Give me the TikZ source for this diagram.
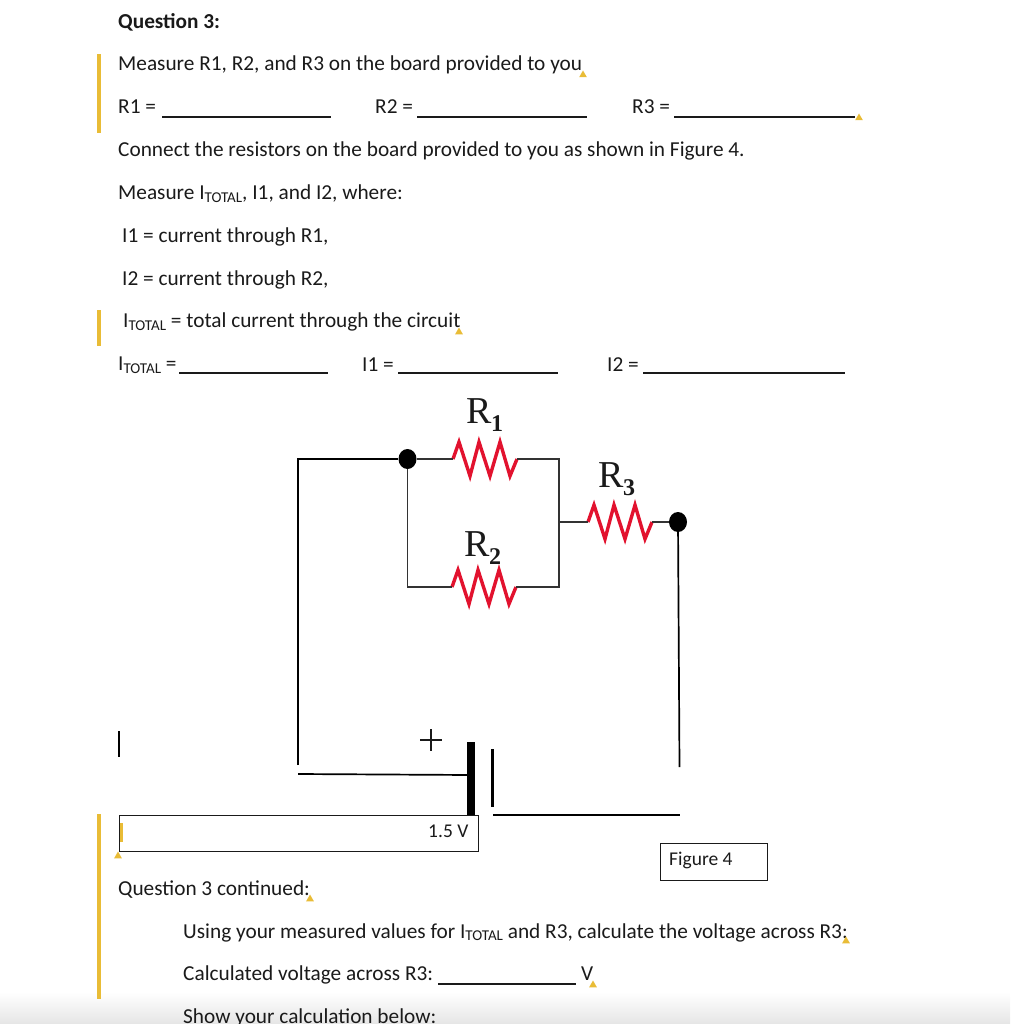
\documentclass[tikz,border=0pt]{standalone}
\usepackage{fontspec}
\setmainfont{Carlito}
\newfontfamily\symfont{Liberation Serif}
\usetikzlibrary{arrows,positioning,shapes.geometric}
\definecolor{markyellow}{HTML}{E9BC36}
\definecolor{resred}{HTML}{E2122E}
\definecolor{inkgray}{HTML}{1A1A1A}
\definecolor{wiregray}{HTML}{333333}
\newcommand{\itot}{I\raisebox{-0.13em}{\fontsize{15}{15}\selectfont TOTAL}}
\newcommand{\rname}[2]{{\symfont\fontsize{38}{38}\selectfont R\raisebox{-0.2em}{\fontsize{#2}{#2}\selectfont\bfseries\kern-1pt #1}}}

\begin{document}
\begin{tikzpicture}
		[x=1pt,y=-1pt,node distance=22.5pt,
		 txt/.style = {inner sep=0, text=inkgray, font=\fontsize{21.3}{24}\selectfont, anchor=base west},
		 row/.style = {txt, anchor=north west, text height=15pt, text depth=5pt},
		 boxtxt/.style = {txt, font=\fontsize{19.5}{24}\selectfont},
		 blank/.style = {draw=inkgray, line width=1.1pt},
		 wire/.style = {draw=wiregray, line width=1.7pt},
		 lead/.style = {draw=black, line width=1.7pt},
		 bar/.style = {draw=none, fill=markyellow},
		 dot/.style = {shape=ellipse, fill=black, inner sep=0, minimum width=18pt, minimum height=20pt},
		 fbox/.style = {draw=inkgray, line width=1.3pt, inner sep=0, anchor=north west},
		 tri/.style = {shape=regular polygon, regular polygon sides=3, fill=markyellow, inner sep=0, minimum size=9pt},
		 rlabel/.style = {inner sep=0, text=inkgray},
		 zigres/.pic = {\draw[resred, line width=3.4pt, line join=miter]
				(0,0) -- (6,-17) -- (17,17) -- (26,-17) -- (37,17) -- (47,-17) -- (57,17) -- (64,0);},
		]
		\useasboundingbox (0,0) rectangle (1010,1024);
		\shade[top color=white, bottom color=black!10, draw=none] (0,992) rectangle (1010,1024);

		% change bars
		\fill[bar] (97,54) rectangle (101,133);
		\fill[bar] (97,310) rectangle (101,346);
		\fill[bar] (97,814) rectangle (101,999);
		\fill[bar] (120,823) rectangle (123,842);

		% text of the sheet
		\node [txt, font=\fontsize{21.3}{24}\selectfont\bfseries] (title) at (118,28.5) {Question 3:};
		\node [row, below=of title.south west, anchor=north west, yshift=-1.5pt] (measure) {Measure R1, R2, and R3 on the board provided to you};
		\node [row, below=of measure.south west, anchor=north west] (rone) {R1 =};
		\node [txt] (rtwo) at (375,113.5) {R2 =};
		\node [txt] (rthree) at (632,113.5) {R3 =};
		\node [row, below=of rone.south west, anchor=north west] (connect) {Connect the resistors on the board provided to you as shown in Figure 4.};
		\node [row, below=of connect.south west, anchor=north west] (where) {Measure \itot, I1, and I2, where:};
		\node [row, below=of where.south west, anchor=north west, xshift=4pt] (ione) {I1 = current through R1,};
		\node [row, below=of ione.south west, anchor=north west] (itwo) {I2 = current through R2,};
		\node [row, below=of itwo.south west, anchor=north west, xshift=1pt] (itotal) {\itot{} = total current through the circuit};
		\node [row, below=of itotal.south west, anchor=north west, xshift=-5pt] (vtotal) {\itot{} =};
		\node [txt] (vone) at (362,371) {I1 =};
		\node [txt] (vtwo) at (607,371) {I2 =};

		\node [txt] (cont) at (118,895) {Question 3 continued:};
		\node [txt] (usemeas) at (183,938) {Using your measured values for \itot{} and R3, calculate the voltage across R3:};
		\node [row, below=of usemeas.base west, anchor=north west, yshift=-5pt] (calc) {Calculated voltage across R3:};
		\node [txt] (volt) at (581,980) {V};
		\node [row, below=of calc.south west, anchor=north west] (show) {Show your calculation below:};

		% blanks to fill in
		\foreach \xa/\xb/\ya in {162/331/117, 417/587/117, 674/855/117, 179/328/373, 398/558/373, 643/845/373, 438/576/984}
			\draw[blank] (\xa,\ya) -- (\xb,\ya);

		% yellow comment marks
		\foreach \xa/\ya [count=\i] in {583/75, 859/118, 459/332, 118/856, 310/899, 846/941, 593/985}
			\node [tri] (tri\i) at (\xa,\ya) {};

		% circuit
		\node [dot] (left) at (407.5,459) {};
		\node [dot] (right) at (678,522) {};
		\coordinate (ra) at (453,459);
		\coordinate (rb) at (517,459);
		\coordinate (sa) at (452,587);
		\coordinate (sb) at (516,587);
		\coordinate (ta) at (588,522);
		\coordinate (tb) at (652,522);
		\coordinate (mid) at (559,522);
		\coordinate (endl) at (298,765);
		\coordinate (leadl) at (298,774);
		\coordinate (endr) at (679.5,767);
		\coordinate (leadr) at (680,815);
		\coordinate (plate) at (471,775);
		\coordinate (leadb) at (493,815);

		\pic at (ra) {zigres};
		\pic at (sa) {zigres};
		\pic at (ta) {zigres};

		\draw[wire] (left) -- (ra);
		\draw[wire] (rb) -| (mid) |- (sb);
		\draw[wire] (sa) -| (left);
		\draw[wire, line width=1.4pt] (mid) -- (ta);
		\draw[wire] (tb) -- (right);
		\draw[lead] (endl) |- (left);
		\draw[lead] (leadl) -- (plate);
		\draw[lead] (right) -- (endr);
		\draw[lead, line width=2pt] (leadb) -- (leadr);
		\draw[black, line width=1.3pt] (119,731) -- (119,757);

		% battery and plus sign
		\fill[black] (467,742) rectangle (475,815);
		\fill[black] (490.5,749) rectangle (493.5,807);
		\draw[inkgray, line width=1.3pt] (420,740) -- (442,740) (431,729) -- (431,751);

		\node [rlabel] (rinea) at (485,415) {\rname{1}{24}};
		\node [rlabel] (rineb) at (483,548) {\rname{2}{24}};
		\node [rlabel] (rinec) at (617,479) {\rname{3}{24}};

		% boxes
		\node [fbox, minimum width=359pt, minimum height=36pt] (vbox) at (119,815) {};
		\node [boxtxt] (vlabel) at (428,837) {1.5 V};
		\node [fbox, minimum width=107pt, minimum height=37pt] (figbox) at (660,843) {};
		\node [boxtxt] (figlabel) at (669,865) {Figure 4};
\end{tikzpicture}
\end{document}
